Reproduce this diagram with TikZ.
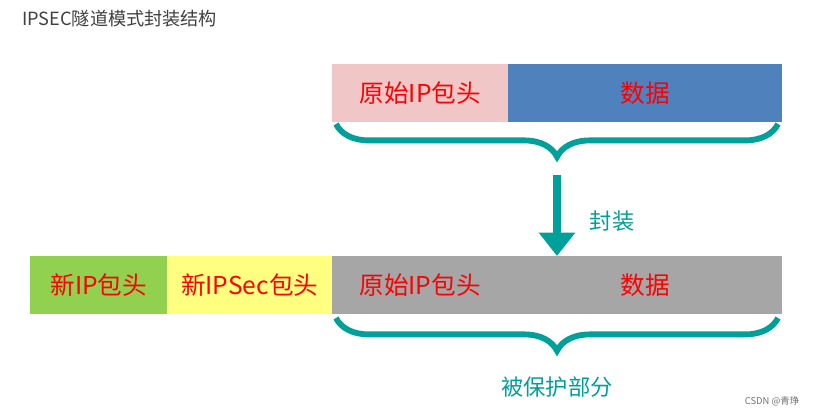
\documentclass[tikz,border=0pt]{standalone}
\usepackage{fontspec}
\setmainfont{Noto Sans CJK SC}
\usetikzlibrary{decorations.pathreplacing,arrows.meta}
\definecolor{teal1}{HTML}{00A09A}
\definecolor{pinkb}{HTML}{F0C6C6}
\definecolor{blueb}{HTML}{4F81BD}
\definecolor{greenb}{HTML}{92D050}
\definecolor{yellowb}{HTML}{FFFF80}
\definecolor{grayb}{HTML}{A6A6A6}
\definecolor{redt}{HTML}{FF0000}
\tikzset{
  cell/.style={draw=none,minimum height=58*0.03cm,inner sep=0pt,font=\fontsize{21}{24}\selectfont,text=redt},
  brc/.style={decorate,decoration={brace,mirror,amplitude=28pt,aspect=0.5},draw=teal1,line width=5pt},
  lbl/.style={text=teal1,font=\fontsize{19}{22}\selectfont}
}
\begin{document}
\begin{tikzpicture}[x=0.03cm,y=-0.03cm]
\useasboundingbox[fill=white] (0,0) rectangle (822,416);
\node[anchor=west,text=black!75,font=\fontsize{15.5}{18}\selectfont] (title) at (18,19) {IPSEC隧道模式封装结构};
% top row
\node[cell,fill=pinkb,minimum width=176*0.03cm,anchor=north west] (th) at (332,64) {原始IP包头};
\node[cell,fill=blueb,minimum width=274*0.03cm,anchor=north west] (td) at (508,64) {数据};
\coordinate (b1l) at (336,124);
\coordinate (b1r) at (778,124);
\draw[brc] (b1l) -- (b1r);
\coordinate (a1) at (557,175);
\coordinate (a2) at (557,256);
\draw[teal1,line width=7pt,-{Triangle[length=20pt,width=30pt]}] (a1) -- (a2);
\node[lbl] (enc) at (612,221) {封装};
% bottom row
\node[cell,fill=greenb,minimum width=137*0.03cm,anchor=north west] (nip) at (30,256) {新IP包头};
\node[cell,fill=yellowb,minimum width=165*0.03cm,anchor=north west] (nsec) at (167,256) {新IPSec包头};
\node[cell,fill=grayb,minimum width=450*0.03cm,anchor=north west] (bg) at (332,256) {};
\node[cell] (bh) at (420,285) {原始IP包头};
\node[cell] (bd) at (645,285) {数据};
\coordinate (b2l) at (336,318);
\coordinate (b2r) at (778,318);
\draw[brc] (b2l) -- (b2r);
\node[lbl] (prot) at (557,387) {被保护部分};
\node[text=black!55,font=\fontsize{8}{10}\selectfont] (wm) at (772,401) {CSDN @青琤};
\end{tikzpicture}
\end{document}
